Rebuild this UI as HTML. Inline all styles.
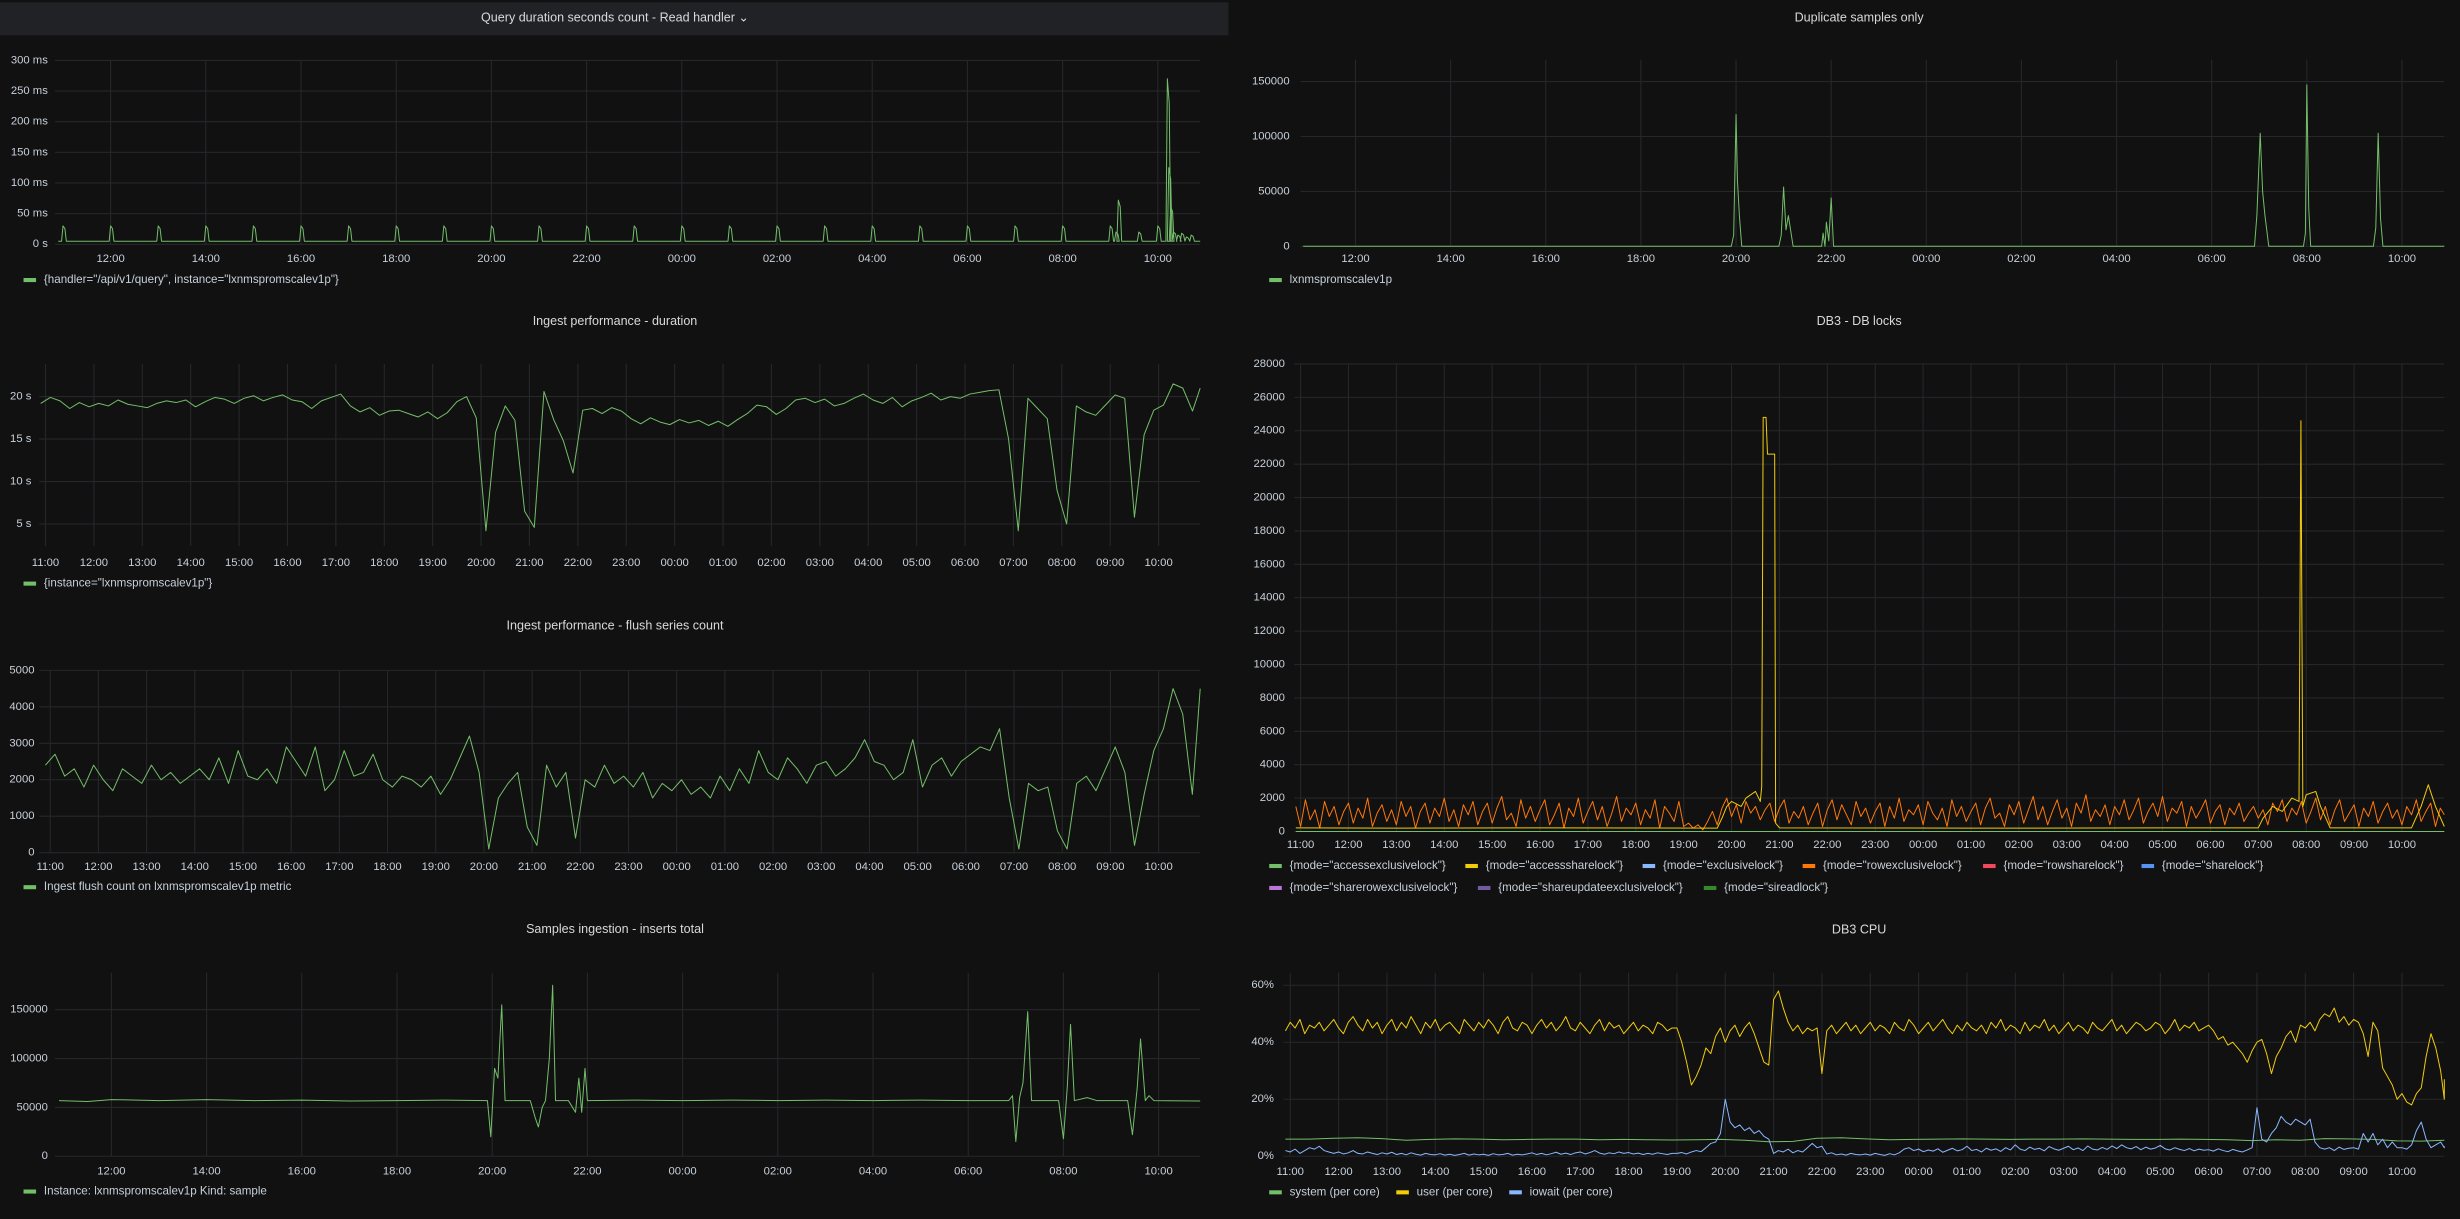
<!DOCTYPE html>
<html><head><meta charset="utf-8"><title>Dashboard</title>
<style>
html,body{margin:0;padding:0;background:#111111;}
body{width:2460px;height:1219px;overflow:hidden;}
svg{display:block;font-family:"Liberation Sans",sans-serif;}
</style></head>
<body>
<svg id="dash" width="2460" height="1219" viewBox="0 0 1568 777" preserveAspectRatio="none" xmlns="http://www.w3.org/2000/svg">
<rect x="0" y="0" width="1568" height="777" fill="#111111"/>
<rect x="0" y="1.5" width="783" height="21" fill="#202226"/>
</svg>
<script>
// ---------- DATA ----------
// Query duration (ms): hourly spikes + extras (clock hours, >24 = next day)
const qdSpikeT = [11,12,13,14,15,16,17,18,19,20,21,22,23,24,25,26,27,28,29,30,31,32,33,33.12,33.17,33.6,34.0,34.2,34.23,34.27,34.33,34.42,34.5,34.6,34.7];
const qdSpikeV = [30,30,30,30,30,30,30,30,30,30,30,30,30,30,30,30,30,30,30,30,30,30,30,20,72,20,30,270,125,62,20,15,18,12,15];
const qdBase = 5;

// Ingest duration (s), start 10:54, 0.2h step
const durStart = 10.9, durStep = 0.2;
const durVals = [19.2,19.9,19.5,18.6,19.3,18.8,19.2,18.9,19.6,19.1,
18.9,18.7,19.2,19.5,19.3,19.6,18.8,19.4,19.9,19.7,
19.2,19.8,20.1,19.5,19.9,20.2,19.6,19.4,18.6,19.5,
19.9,20.3,18.9,18.2,18.7,17.8,18.3,18.4,18.0,17.6,
18.2,17.4,18.1,19.4,20.0,17.5,4.2,15.8,18.9,17.2,
6.5,4.6,20.6,17.3,14.8,11.0,18.4,18.6,18.0,18.7,
18.3,17.4,16.8,17.5,17.0,16.7,17.3,16.9,17.2,16.6,
17.1,16.5,17.3,18.0,19.0,18.8,17.9,18.6,19.6,19.8,
19.3,19.7,18.9,19.2,19.8,20.3,19.6,19.2,19.9,18.8,
19.5,19.9,20.4,19.6,20.0,19.8,20.3,20.5,20.7,20.8,
15.0,4.2,19.8,18.6,17.4,9.0,5.0,18.9,18.2,17.8,
19.0,20.2,19.8,5.8,15.5,18.4,19.0,21.5,21.0,18.3,21.0];

// Flush series count, start 10:54, 0.2h step
const flushStart = 10.9, flushStep = 0.2;
const flushVals = [2400,2700,2100,2300,1800,2400,2000,1700,2300,2100,
1900,2400,2000,2200,1900,2100,2300,2000,2600,1900,
2800,2100,2000,2300,1900,2900,2500,2100,2900,1700,
2000,2800,2100,2200,2700,2000,1800,2100,2000,1800,
2100,1600,2000,2600,3200,2200,100,1500,1900,2200,
700,200,2400,1800,2200,400,2000,1800,2400,1900,
2100,1800,2200,1500,1900,1700,2000,1600,1800,1500,
2100,1700,2300,1900,2800,2200,2000,2600,2300,1900,
2400,2500,2100,2300,2600,3100,2500,2400,2000,2200,
3100,1800,2400,2600,2100,2500,2700,2900,2800,3400,
1500,100,1900,1700,1800,600,100,1900,2100,1700,
2300,2900,2200,200,1600,2800,3400,4500,3800,1600,4500];

// Samples ingestion inserts total
const insT = [10.9,11.5,12,13,14,15,16,17,18,19,19.9,19.97,20.05,20.12,20.2,20.27,20.5,20.8,20.9,20.97,21.05,21.12,21.2,21.27,21.33,21.6,21.75,21.82,21.88,21.95,22.0,23,24,25,26,27,28,29,30,30.85,30.93,31.0,31.08,31.15,31.25,31.33,31.9,32.0,32.08,32.15,32.23,32.5,32.7,33.35,33.45,33.55,33.62,33.72,33.8,33.9,34.9];
const insV = [57000,56000,58000,57000,58000,57000,57500,56500,57000,57500,57000,20000,90000,80000,155000,57000,57000,57000,40000,30000,50000,57000,100000,175000,57000,57000,45000,80000,45000,90000,57000,57500,57000,57500,57000,57500,57000,57500,57000,57000,62000,15000,60000,75000,148000,57000,57000,18000,70000,135000,57000,60000,57000,57000,22000,70000,120000,57000,62000,57000,56500];

// Duplicate samples
const dupT = [10.9,19.9,19.95,20.0,20.03,20.07,20.12,20.9,20.95,21.0,21.05,21.1,21.15,21.2,21.8,21.83,21.87,21.9,21.95,22.0,22.05,30.9,30.95,31.02,31.07,31.12,31.2,31.93,31.97,32.0,32.04,32.08,33.4,33.45,33.5,33.55,33.6,34.9];
const dupV = [0,0,10000,120000,60000,28000,0,0,10000,54000,15000,28000,14000,0,0,12000,0,22000,5000,44000,0,0,28000,103000,50000,28000,0,0,12000,147000,35000,0,0,17000,103000,25000,0,0];

// DB locks: rowexclusivelock, start 10:54, 0.1h step
const lockStart = 10.9, lockStep = 0.1;
const rowExclVals = [1500,300,1900,700,1300,200,1800,900,1500,400,
1200,1700,500,1400,800,2000,300,1100,1600,600,
1300,400,1800,900,1500,200,1200,1700,500,1400,
900,2000,600,1300,300,1600,1000,1800,400,1200,
1700,500,1400,2100,700,1100,300,1900,800,1500,
600,1300,1900,400,1000,1700,200,1400,900,2000,
500,1200,1800,700,1500,300,1100,2100,600,1400,
1000,1700,400,1300,800,1900,200,1500,1100,600,
1800,300,500,200,400,100,600,1200,400,1400,
2000,900,1600,500,1800,1100,1500,700,1300,1700,
600,1400,1900,500,1200,800,1500,400,1100,1700,
300,1300,1900,700,1600,1000,400,1800,900,1400,
500,1200,1700,300,1500,800,2000,600,1300,1000,
1600,400,1800,1100,700,1400,300,1900,900,1500,
600,1200,1700,400,1400,2000,800,1100,300,1600,
1000,1800,500,1300,2100,700,1500,400,1200,1900,
800,1400,300,1700,1100,2200,600,1300,900,1600,
400,1500,1000,1900,700,1300,2000,500,1200,1700,
900,2100,600,1400,1100,1800,300,1500,800,1300,
1900,500,1200,1600,400,1400,1000,1700,600,1100,
1500,800,1300,400,1700,1200,1900,600,1400,1000,
1800,500,1200,2000,700,1500,400,1300,1900,600,
1100,1600,300,1400,900,1800,500,1200,1700,800,
1300,400,1500,1000,1900,600,1200,1700,300,1400,
1000];
const accShareT = [10.9,13,16,19.7,19.8,19.9,20.0,20.2,20.3,20.5,20.6,20.63,20.66,20.72,20.75,20.9,20.92,21.0,25,31.0,31.1,31.3,31.5,31.7,31.85,31.89,31.93,32.0,32.2,32.3,32.5,34.2,34.4,34.55,34.7,34.9];
const accShareV = [220,200,220,200,800,1500,1800,1500,2000,2400,1800,2700,24800,24800,22600,22600,500,220,200,220,800,1500,1200,2000,1800,24600,1500,2200,2400,1500,220,220,1500,2800,1500,300];
const accExclT = [10.9,34.9];
const accExclV = [0,0];

// CPU, start 10:54, 0.1h step (percent)
const cpuStart = 10.9, cpuStep = 0.1;
const userVals = [44,47,45,48,43,46,45,47,44,46,48,
45,43,47,49,46,44,48,45,47,43,
46,48,44,47,45,49,46,43,47,45,
48,44,46,47,45,43,48,46,44,47,
45,48,46,43,47,49,45,44,47,46,
43,46,48,45,47,44,46,49,45,44,
47,45,43,46,48,44,47,45,46,43,
45,47,44,46,45,43,47,46,44,45,
45,40,33,25,28,32,38,36,42,45,
40,44,46,42,45,47,43,38,33,32,
55,58,52,47,44,46,43,45,44,45,
29,44,46,43,45,47,44,46,43,45,
47,44,46,45,43,47,45,44,48,46,
43,45,47,44,46,48,45,43,46,44,
47,45,44,46,43,47,45,48,44,46,
45,43,47,44,46,45,48,44,46,43,
45,47,44,46,45,43,47,45,44,46,
48,44,46,43,45,47,46,44,45,47,
46,43,45,48,44,46,45,47,44,45,
46,44,41,42,39,40,38,36,33,37,
40,41,36,29,35,38,42,44,40,46,
45,47,44,48,50,49,52,47,49,46,
48,47,43,35,47,44,31,28,25,20,
22,19,18,22,24,35,43,38,30,20,27];
const iowaitVals = [2,1.5,2.5,1,2,3,2.5,3.5,2,1.5,1,
1.5,0.8,1.2,2,1,0.8,1.5,1,0.6,1.2,
0.8,1.4,0.6,1,0.5,1.2,0.7,0.4,1,0.6,
0.5,0.9,0.4,0.7,0.3,0.6,1,0.4,0.8,0.5,
0.7,0.3,0.9,0.5,0.6,1,0.4,0.7,0.5,0.8,
1.2,0.6,1,0.5,0.9,1.4,0.7,1.1,0.6,1.2,
1.5,0.8,1.3,2,1.1,0.7,1.2,0.9,1.5,1,
1.3,0.8,1.1,0.6,1,0.7,1.2,0.9,0.6,1,
1,1.3,0.8,1.5,2,1.6,3,4.5,5,8,
20,12,10,11,9,10,8,9,7,6,
1,2,1.5,2.5,1.2,2,1.5,3,4.5,3,
3.5,0.8,1.2,0.5,0.8,0.4,1,0.6,0.5,0.8,
0.4,1,0.6,0.3,0.9,0.5,1.2,2.5,3,2,
2.5,1.6,2.2,1.8,2.6,1.4,2.1,2.8,1.9,2.3,
3.5,2,2.4,1.5,2.8,2.1,2.6,1.7,3,2.2,
4,2.5,2,3.2,2.4,2.8,1.9,3.4,2.6,2.1,
2.8,3.5,2.3,2.9,2,3.6,2.5,2.2,3.1,2.4,
3.6,2.7,4,3,2.6,3.4,2.3,3.2,2.5,2.9,
3.8,2.6,2.2,3,2.4,2,2.7,1.9,2.5,2.1,
2.3,1.8,2.6,2,1.6,2.4,1.9,1.5,2.2,3,
17,6,5,8,10,14,12,11,13,12,
11,13,5,3,2.5,3,2,3.2,2.4,2.8,
3,2.5,8,5,8,4,6,3,5,3,
3,2.5,4,9,12,6,3,4,5,3,3.5];
const sysStart = 10.9, sysStep = 0.5;
const systemVals = [6,6,6.3,6.5,6.2,5.6,5.9,6.1,6,5.8,5.9,6,6,5.8,5.9,5.8,5.7,5.8,5.9,5.6,5.1,5.2,6.3,6.5,6.1,5.8,5.9,6,6.1,6,5.9,6,6,6.1,6,5.9,5.9,6,5.9,5.8,5.5,5.8,5.6,6.2,6.1,5.9,5.4,5.3,5.6];

// Tick label sets
const evenHours = [12,14,16,18,20,22,24,26,28,30,32,34];
const allHours = [11,12,13,14,15,16,17,18,19,20,21,22,23,24,25,26,27,28,29,30,31,32,33,34];
const qdTicks = [0,50,100,150,200,250,300];
const qdTickLabels = ["0 s","50 ms","100 ms","150 ms","200 ms","250 ms","300 ms"];
const durTicks = [5,10,15,20];
const durTickLabels = ["5 s","10 s","15 s","20 s"];
const flushTicks = [0,1000,2000,3000,4000,5000];
const insTicks = [0,50000,100000,150000];
const dupTicks = [0,50000,100000,150000];
const lockTicks = [0,2000,4000,6000,8000,10000,12000,14000,16000,18000,20000,22000,24000,26000,28000];
const cpuTicks = [0,20,40,60];
const cpuTickLabels = ["0%","20%","40%","60%"];

// ---------- RENDER ----------
const NS = "http://www.w3.org/2000/svg";
const svg = document.getElementById("dash");
function el(tag, attrs, parent){
  const e = document.createElementNS(NS, tag);
  for (const k in attrs) e.setAttribute(k, attrs[k]);
  (parent||svg).appendChild(e);
  return e;
}
function lin(a0,p0,a1,p1){ return v => p0 + (v-a0)*(p1-p0)/(a1-a0); }
function hh(h){ const x = ((h%24)+24)%24; return (x<10?"0":"")+x+":00"; }
const TICK = "#c7d0d9", GRID = "#26272b", TITLE = "#d8d9da";

function panel(c){
  const g = el("g", {});
  
  
  const t = el("text", {x:c.titleX, y:c.titleY, "text-anchor":"middle", "dominant-baseline":"middle", fill:TITLE, "font-size":8}, g);
  t.textContent = c.title;
  
  
  c.yTicks.forEach((v,i) => {
    const y = c.sy(v);
    const ln = el("line", {x1:c.left, x2:c.right, y1:y, y2:y, stroke:GRID, "stroke-width":0.7}, g);
    
    
    const tx = el("text", {x:c.yLabelX, y:y, "text-anchor":"end", "dominant-baseline":"middle", fill:TICK, "font-size":7.2}, g);
    tx.textContent = c.yLabels ? c.yLabels[i] : String(v);
    
    
  });
  c.xTicks.forEach(h => {
    const x = c.sx(h);
    const ln = el("line", {x1:x, x2:x, y1:c.top, y2:c.bottom, stroke:GRID, "stroke-width":0.7}, g);
    
    
    const tx = el("text", {x:x, y:c.xLabelY, "text-anchor":"middle", "dominant-baseline":"middle", fill:TICK, "font-size":7.2}, g);
    tx.textContent = hh(h);
    
    
  });
  c.legend.forEach(L => {
    const sw = el("rect", {x:L.x, y:c.legendY-1.3, width:8, height:2.6, fill:L.color}, g);
    
    
    const tx = el("text", {x:L.x+13, y:L.y||c.legendY, "dominant-baseline":"middle", fill:TICK, "font-size":7.4}, g);
    tx.textContent = L.text;
    
    
  });
  return g;
}
function line(g, c, ts, vs, color, name, w){
  let d = "";
  for (let i=0;i<vs.length && i<ts.length;i++){
    const x = Math.max(c.left, Math.min(c.right, c.sx(ts[i])));
    d += (i?"L":"M") + x.toFixed(2) + " " + c.sy(vs[i]).toFixed(2);
  }
  const p = el("path", {d:d, fill:"none", stroke:color, "stroke-width":w||1, "vector-effect":"non-scaling-stroke", "stroke-linejoin":"round"}, g);
  
  
  return p;
}
function times(start, step, n){ const a=[]; for(let i=0;i<n;i++) a.push(start+i*step); return a; }

const c1 = {name:"query-duration-panel", title:"Query duration seconds count - Read handler \u2304", titleX:392, titleY:11.7,
  left:35, right:765, top:38.5, bottom:155.7, sx:lin(12,70.5,34,738), sy:lin(0,155.7,300,38.5),
  yTicks:qdTicks, yLabels:qdTickLabels, yLabelX:30.5, xTicks:evenHours, xLabelY:165, legendY:178.5,
  legend:[{x:15,color:"#73bf69",text:'{handler="/api/v1/query", instance="lxnmspromscalev1p"}'}]};
const g1 = panel(c1);
(function(){
  const ts=[10.9], vs=[qdBase];
  qdSpikeT.forEach((t,i)=>{ ts.push(t-0.03,t,t+0.04,t+0.07); vs.push(qdBase,qdSpikeV[i],qdSpikeV[i]*0.85,qdBase); });
  ts.push(34.9); vs.push(qdBase);
  line(g1,c1,ts,vs,"#73bf69","query-duration-line");
})();

const c2 = {name:"ingest-duration-panel", title:"Ingest performance - duration", titleX:392, titleY:205,
  left:25, right:765, top:232, bottom:348, sx:lin(11,29,34,738.5), sy:lin(5,334,20,252.8),
  yTicks:durTicks, yLabels:durTickLabels, yLabelX:20, xTicks:allHours, xLabelY:359, legendY:372,
  legend:[{x:15,color:"#73bf69",text:'{instance="lxnmspromscalev1p"}'}]};
const g2 = panel(c2);
line(g2,c2,times(durStart,durStep,durVals.length),durVals,"#73bf69","ingest-duration-line");

const c3 = {name:"flush-count-panel", title:"Ingest performance - flush series count", titleX:392, titleY:399,
  left:25, right:765, top:427.3, bottom:543.5, sx:lin(11,32,34,738.5), sy:lin(0,543.5,5000,427.3),
  yTicks:flushTicks, yLabelX:22, xTicks:allHours, xLabelY:552.6, legendY:565.5,
  legend:[{x:15,color:"#73bf69",text:"Ingest flush count on lxnmspromscalev1p metric"}]};
const g3 = panel(c3);
line(g3,c3,times(flushStart,flushStep,flushVals.length),flushVals,"#73bf69","flush-count-line");

const c4 = {name:"samples-ingestion-panel", title:"Samples ingestion - inserts total", titleX:392, titleY:592.7,
  left:35, right:765, top:620, bottom:737, sx:lin(12,71,34,738.5), sy:lin(0,737,150000,643.6),
  yTicks:insTicks, yLabelX:30.5, xTicks:evenHours, xLabelY:746.7, legendY:759.5,
  legend:[{x:15,color:"#73bf69",text:"Instance: lxnmspromscalev1p Kind: sample"}]};
const g4 = panel(c4);
line(g4,c4,insT,insV,"#73bf69","inserts-total-line");

const c5 = {name:"duplicate-samples-panel", title:"Duplicate samples only", titleX:1185, titleY:11.7,
  left:829, right:1558, top:38, bottom:157, sx:lin(12,864,34,1531), sy:lin(0,157,150000,52),
  yTicks:dupTicks, yLabelX:822, xTicks:evenHours, xLabelY:165, legendY:178.5,
  legend:[{x:809,color:"#73bf69",text:"lxnmspromscalev1p"}]};
const g5 = panel(c5);
line(g5,c5,dupT,dupV,"#73bf69","duplicate-samples-line");

const c6 = {name:"db-locks-panel", title:"DB3 - DB locks", titleX:1185, titleY:205,
  left:825, right:1558, top:232, bottom:530, sx:lin(11,829,34,1531), sy:lin(0,530,28000,232),
  yTicks:lockTicks, yLabelX:819, xTicks:allHours, xLabelY:538.5, legendY:552,
  legend:[
    {x:809,color:"#73bf69",text:'{mode="accessexclusivelock"}'},
    {x:934,color:"#f2cc0c",text:'{mode="accesssharelock"}'},
    {x:1047,color:"#8ab8ff",text:'{mode="exclusivelock"}'},
    {x:1149,color:"#ff780a",text:'{mode="rowexclusivelock"}'},
    {x:1264,color:"#f2495c",text:'{mode="rowsharelock"}'},
    {x:1365,color:"#5794f2",text:'{mode="sharelock"}'}]};
const g6 = panel(c6);
[{x:809,color:"#b877d9",text:'{mode="sharerowexclusivelock"}'},
 {x:942,color:"#705da0",text:'{mode="shareupdateexclusivelock"}'},
 {x:1086,color:"#37872d",text:'{mode="sireadlock"}'}].forEach(L=>{
  const sw = el("rect",{x:L.x,y:566-1.3,width:8,height:2.6,fill:L.color},g6);
  
  
  const tx = el("text",{x:L.x+13,y:566,"dominant-baseline":"middle",fill:TICK,"font-size":7.4},g6);
  tx.textContent = L.text;
  
  
});
line(g6,c6,times(lockStart,lockStep,rowExclVals.length),rowExclVals,"#ff780a","rowexclusivelock-line");
line(g6,c6,accShareT,accShareV,"#f2cc0c","accesssharelock-line");
line(g6,c6,accExclT,accExclV,"#73bf69","accessexclusivelock-line");

const c7 = {name:"db-cpu-panel", title:"DB3 CPU", titleX:1185, titleY:593,
  left:818, right:1558, top:620, bottom:737, sx:lin(11,822.4,34,1531), sy:lin(0,737,60,628),
  yTicks:cpuTicks, yLabels:cpuTickLabels, yLabelX:812, xTicks:allHours, xLabelY:747, legendY:760,
  legend:[
    {x:809,color:"#73bf69",text:"system (per core)"},
    {x:890,color:"#f2cc0c",text:"user (per core)"},
    {x:962,color:"#8ab8ff",text:"iowait (per core)"}]};
const g7 = panel(c7);
line(g7,c7,times(sysStart,sysStep,systemVals.length),systemVals,"#73bf69","system-cpu-line");
line(g7,c7,times(cpuStart,cpuStep,userVals.length),userVals,"#f2cc0c","user-cpu-line");
line(g7,c7,times(cpuStart,cpuStep,iowaitVals.length),iowaitVals,"#8ab8ff","iowait-cpu-line");
</script>
</body></html>
